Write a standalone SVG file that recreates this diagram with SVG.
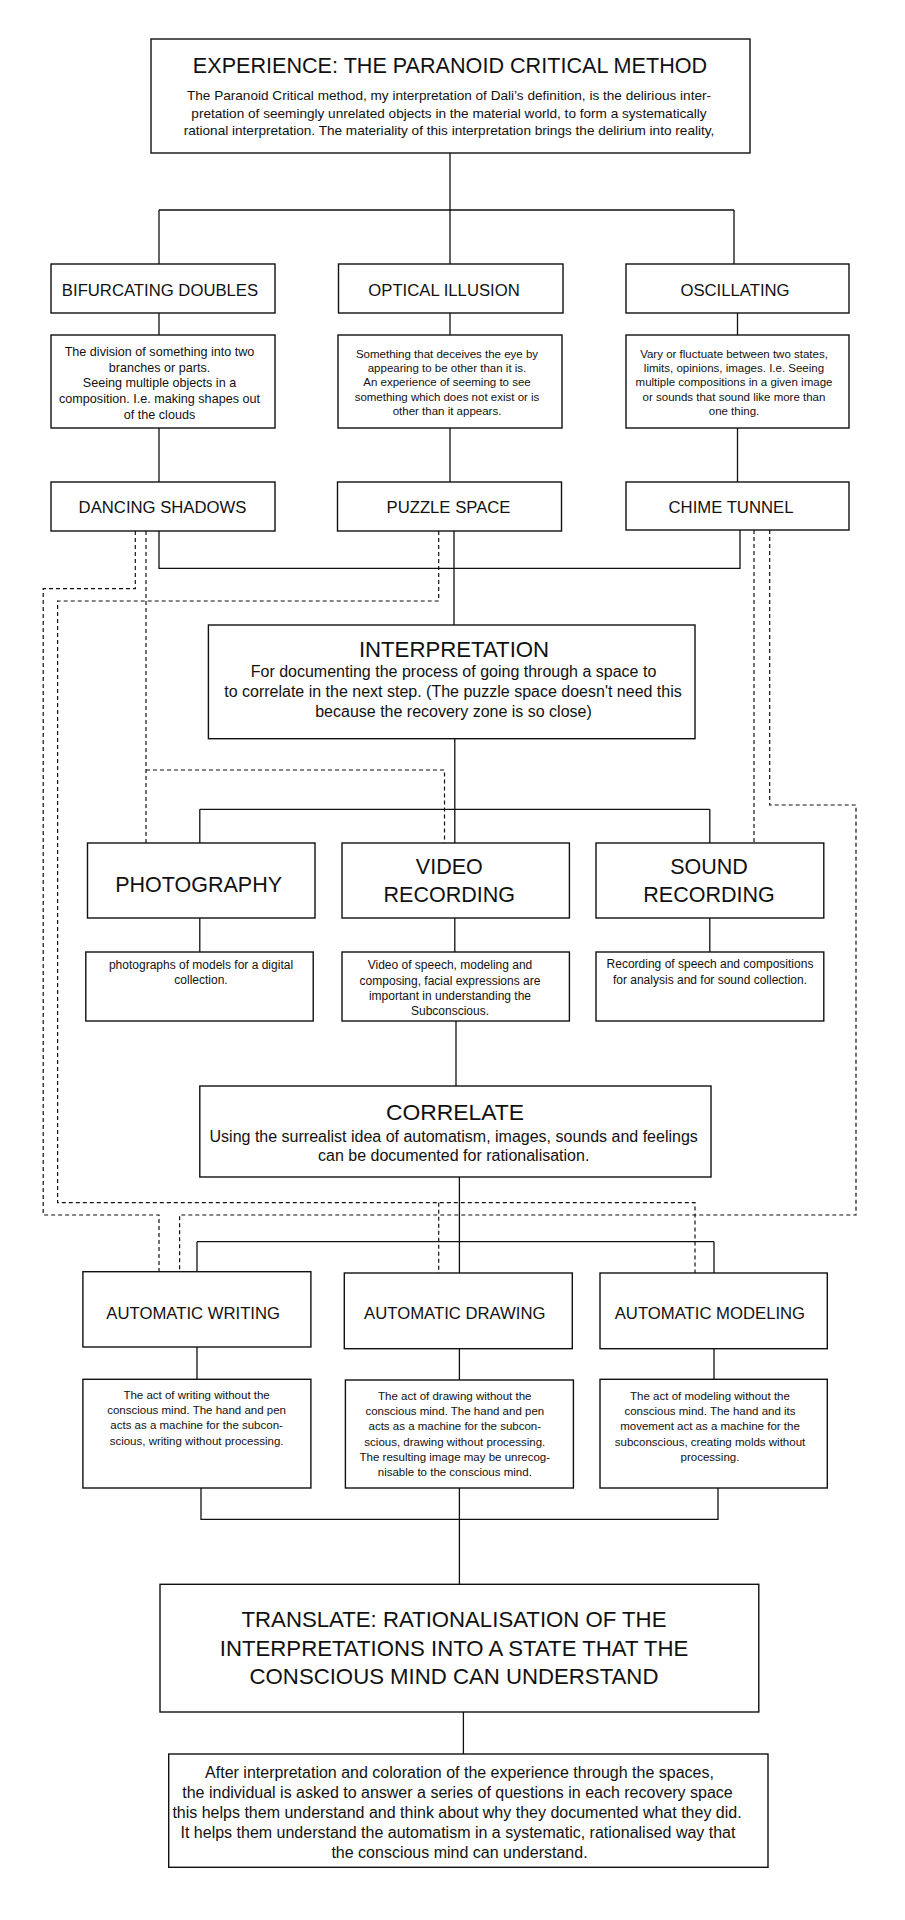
<svg xmlns="http://www.w3.org/2000/svg" width="905" height="1920" viewBox="0 0 905 1920">
<style>
text{font-family:"Liberation Sans",Arial,sans-serif;fill:#111;text-anchor:middle}
.box{fill:#fff;stroke:#111;stroke-width:1.4}
.ln{fill:none;stroke:#111;stroke-width:1.3}
.dash{fill:none;stroke:#111;stroke-width:1.2;stroke-dasharray:4 3}
.h1{font-size:21.6px}
.h2{font-size:21.5px}
.h3{font-size:22.2px}
.h4{font-size:22.9px}
.lab{font-size:16.7px}
.p13{font-size:13.6px}
.p15{font-size:16px}
.p16{font-size:16px}
.s12{font-size:12px}
.s125{font-size:12.6px}
.s115{font-size:11.5px}
.tr{font-size:22.2px}
</style>
<rect width="905" height="1920" fill="#fff"/>
<g id="connectors">
<path class="ln" d="M450 153V210M159 210H734M159 210V264M450 210V264M734 210V264"/>
<path class="ln" d="M159 313V335M450 313V335M737.5 313V335"/>
<path class="ln" d="M159 428V482M450 428V482M737.5 428V482"/>
<path class="ln" d="M159 531V568.3H740V530"/>
<path class="ln" d="M454 531V625"/>
<path class="ln" d="M454.8 738.7V809.3M199.8 809.3H709.8M199.8 809.3V843M454.8 809.3V843M709.8 809.3V843"/>
<path class="ln" d="M199.8 918V952M454.8 918V952M709.8 918V952"/>
<path class="ln" d="M456 1021V1086"/>
<path class="ln" d="M459.4 1177V1273M197 1241.7H714M197 1241.7V1271.7M714 1241.7V1273"/>
<path class="ln" d="M197 1347V1379.3M459.4 1348.7V1380M714 1348.7V1379.3"/>
<path class="ln" d="M201 1488V1519.3H718V1488M459.4 1488V1584.3"/>
<path class="ln" d="M463.4 1712V1754"/>
<path class="dash" d="M135.3 531V588.7H43.2V1215H159V1271.7"/>
<path class="dash" d="M146 531V843M146 770H444.5V843"/>
<path class="dash" d="M438.7 531V601H57.6V1202.7H695V1273M438.7 1202.7V1273"/>
<path class="dash" d="M754 530V843M769.7 530V805H856V1215H179.6V1271.7"/>
</g>
<g id="experience">
<rect class="box" x="151" y="39" width="599" height="114"/>
<text class="h1" x="450" y="73">EXPERIENCE: THE PARANOID CRITICAL METHOD</text>
<text class="p13" x="449" y="100">The Paranoid Critical method, my interpretation of Dali’s definition, is the delirious inter-</text>
<text class="p13" x="449" y="117.5">pretation of seemingly unrelated objects in the material world, to form a systematically</text>
<text class="p13" x="449" y="135">rational interpretation. The materiality of this interpretation brings the delirium into reality,</text>
</g>
<g id="bifurcating-doubles">
<rect class="box" x="51" y="264" width="224" height="49"/>
<text class="lab" x="160" y="296">BIFURCATING DOUBLES</text>
</g>
<g id="optical-illusion">
<rect class="box" x="338.5" y="264" width="224.5" height="49"/>
<text class="lab" x="444" y="296">OPTICAL ILLUSION</text>
</g>
<g id="oscillating">
<rect class="box" x="626" y="264" width="223" height="49"/>
<text class="lab" x="735" y="296">OSCILLATING</text>
</g>
<g id="bifurcating-desc">
<rect class="box" x="51" y="335" width="224" height="93"/>
<text class="s125" x="159.5"><tspan x="159.5" y="356">The division of something into two</tspan><tspan x="159.5" y="371.5">branches or parts.</tspan><tspan x="159.5" y="387">Seeing multiple objects in a</tspan><tspan x="159.5" y="403">composition. I.e. making shapes out</tspan><tspan x="159.5" y="418.5">of the clouds</tspan></text>
</g>
<g id="optical-desc">
<rect class="box" x="338" y="335" width="224" height="93"/>
<text class="s115" x="447"><tspan x="447" y="357.5">Something that deceives the eye by</tspan><tspan x="447" y="372">appearing to be other than it is.</tspan><tspan x="447" y="386">An experience of seeming to see</tspan><tspan x="447" y="400.5">something which does not exist or is</tspan><tspan x="447" y="415">other than it appears.</tspan></text>
</g>
<g id="oscillating-desc">
<rect class="box" x="626" y="335" width="223" height="93"/>
<text class="s115" x="734"><tspan x="734" y="357.5">Vary or fluctuate between two states,</tspan><tspan x="734" y="372">limits, opinions, images. I.e. Seeing</tspan><tspan x="734" y="386">multiple compositions in a given image</tspan><tspan x="734" y="400.5">or sounds that sound like more than</tspan><tspan x="734" y="415">one thing.</tspan></text>
</g>
<g id="dancing-shadows">
<rect class="box" x="51" y="482" width="224" height="49"/>
<text class="lab" x="162.5" y="513">DANCING SHADOWS</text>
</g>
<g id="puzzle-space">
<rect class="box" x="337.5" y="482" width="224" height="49"/>
<text class="lab" x="448.5" y="513">PUZZLE SPACE</text>
</g>
<g id="chime-tunnel">
<rect class="box" x="626" y="482" width="223" height="48"/>
<text class="lab" x="731" y="513">CHIME TUNNEL</text>
</g>
<g id="interpretation">
<rect class="box" x="208.4" y="625" width="486.6" height="113.7"/>
<text class="h3" x="454" y="657">INTERPRETATION</text>
<text class="p15" x="453.5" y="677">For documenting the process of going through a space to</text>
<text class="p15" x="453" y="697">to correlate in the next step. (The puzzle space doesn't need this</text>
<text class="p15" x="453.5" y="717">because the recovery zone is so close)</text>
</g>
<g id="photography">
<rect class="box" x="87.5" y="843" width="227.5" height="75"/>
<text class="h2" x="198.6" y="892">PHOTOGRAPHY</text>
</g>
<g id="video-recording">
<rect class="box" x="342" y="843" width="227.4" height="75"/>
<text class="h2" x="449.3" y="874">VIDEO</text>
<text class="h2" x="449.3" y="902">RECORDING</text>
</g>
<g id="sound-recording">
<rect class="box" x="596" y="843" width="227.8" height="75"/>
<text class="h2" x="709" y="874">SOUND</text>
<text class="h2" x="709" y="902">RECORDING</text>
</g>
<g id="photography-desc">
<rect class="box" x="85.8" y="952" width="227.4" height="69"/>
<text class="s12" x="201"><tspan x="201" y="969">photographs of models for a digital</tspan><tspan x="201" y="984">collection.</tspan></text>
</g>
<g id="video-desc">
<rect class="box" x="342" y="952" width="227.4" height="69"/>
<text class="s12" x="450"><tspan x="450" y="969">Video of speech, modeling and</tspan><tspan x="450" y="984.5">composing, facial expressions are</tspan><tspan x="450" y="999.5">important in understanding the</tspan><tspan x="450" y="1015">Subconscious.</tspan></text>
</g>
<g id="sound-desc">
<rect class="box" x="596" y="952" width="227.8" height="69"/>
<text class="s12" x="710"><tspan x="710" y="968">Recording of speech and compositions</tspan><tspan x="710" y="983.5">for analysis and for sound collection.</tspan></text>
</g>
<g id="correlate">
<rect class="box" x="199.8" y="1086" width="511.2" height="91"/>
<text class="h4" x="455" y="1120">CORRELATE</text>
<text class="p16" x="453.7" y="1141.5">Using the surrealist idea of automatism, images, sounds and feelings</text>
<text class="p16" x="453.7" y="1161">can be documented for rationalisation.</text>
</g>
<g id="automatic-writing">
<rect class="box" x="82.9" y="1271.7" width="228" height="75.3"/>
<text class="lab" x="193.2" y="1319">AUTOMATIC WRITING</text>
</g>
<g id="automatic-drawing">
<rect class="box" x="344.3" y="1273" width="228" height="75.7"/>
<text class="lab" x="454.8" y="1319">AUTOMATIC DRAWING</text>
</g>
<g id="automatic-modeling">
<rect class="box" x="600" y="1273" width="227.3" height="75.7"/>
<text class="lab" x="709.9" y="1319">AUTOMATIC MODELING</text>
</g>
<g id="writing-desc">
<rect class="box" x="82.9" y="1379.3" width="228" height="108.7"/>
<text class="s115" x="196.6"><tspan x="196.6" y="1398.5">The act of writing without the</tspan><tspan x="196.6" y="1414">conscious mind. The hand and pen</tspan><tspan x="196.6" y="1429">acts as a machine for the subcon-</tspan><tspan x="196.6" y="1444.5">scious, writing without processing.</tspan></text>
</g>
<g id="drawing-desc">
<rect class="box" x="345.4" y="1380" width="228" height="108"/>
<text class="s115" x="454.8"><tspan x="454.8" y="1400">The act of drawing without the</tspan><tspan x="454.8" y="1415">conscious mind. The hand and pen</tspan><tspan x="454.8" y="1430">acts as a machine for the subcon-</tspan><tspan x="454.8" y="1445.5">scious, drawing without processing.</tspan><tspan x="454.8" y="1461">The resulting image may be unrecog-</tspan><tspan x="454.8" y="1476">nisable to the conscious mind.</tspan></text>
</g>
<g id="modeling-desc">
<rect class="box" x="600" y="1379.3" width="227.3" height="108.7"/>
<text class="s115" x="710"><tspan x="710" y="1400">The act of modeling without the</tspan><tspan x="710" y="1415">conscious mind. The hand and its</tspan><tspan x="710" y="1430">movement act as a machine for the</tspan><tspan x="710" y="1445.5">subconscious, creating molds without</tspan><tspan x="710" y="1461">processing.</tspan></text>
</g>
<g id="translate">
<rect class="box" x="160" y="1584.3" width="598.8" height="127.7"/>
<text class="tr" x="454" y="1627">TRANSLATE: RATIONALISATION OF THE</text>
<text class="tr" x="454" y="1656">INTERPRETATIONS INTO A STATE THAT THE</text>
<text class="tr" x="454" y="1684">CONSCIOUS MIND CAN UNDERSTAND</text>
</g>
<g id="translate-desc">
<rect class="box" x="168.7" y="1754" width="599.3" height="113.3"/>
<text class="p16" x="458.5"><tspan x="459.5" y="1777.5">After interpretation and coloration of the experience through the spaces,</tspan><tspan x="457.5" y="1797.5">the individual is asked to answer a series of questions in each recovery space</tspan><tspan x="457" y="1818">this helps them understand and think about why they documented what they did.</tspan><tspan x="458" y="1838">It helps them understand the automatism in a systematic, rationalised way that</tspan><tspan x="459.5" y="1858">the conscious mind can understand.</tspan></text>
</g>
</svg>
